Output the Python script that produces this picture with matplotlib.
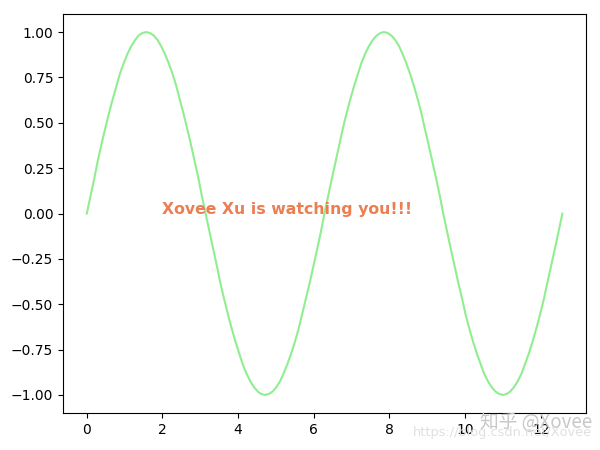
import matplotlib
matplotlib.use("Agg")
import matplotlib.pyplot as plt

# x positions and values (step of about 0.098)
x = [0.00, 0.10, 0.20, 0.29, 0.39, 0.49, 0.59, 0.69, 0.79, 0.88, 0.98, 1.08, 1.18, 1.28, 1.37, 1.47,
     1.57, 1.67, 1.77, 1.87, 1.96, 2.06, 2.16, 2.26, 2.36, 2.45, 2.55, 2.65, 2.75, 2.85, 2.95, 3.04,
     3.14, 3.24, 3.34, 3.44, 3.53, 3.63, 3.73, 3.83, 3.93, 4.03, 4.12, 4.22, 4.32, 4.42, 4.52, 4.61,
     4.71, 4.81, 4.91, 5.01, 5.11, 5.20, 5.30, 5.40, 5.50, 5.60, 5.69, 5.79, 5.89, 5.99, 6.09, 6.19,
     6.28, 6.38, 6.48, 6.58, 6.68, 6.77, 6.87, 6.97, 7.07, 7.17, 7.26, 7.36, 7.46, 7.56, 7.66, 7.76,
     7.85, 7.95, 8.05, 8.15, 8.25, 8.34, 8.44, 8.54, 8.64, 8.74, 8.84, 8.93, 9.03, 9.13, 9.23, 9.33,
     9.42, 9.52, 9.62, 9.72, 9.82, 9.92, 10.01, 10.11, 10.21, 10.31, 10.41, 10.50, 10.60, 10.70, 10.80, 10.90,
     11.00, 11.09, 11.19, 11.29, 11.39, 11.49, 11.58, 11.68, 11.78, 11.88, 11.98, 12.08, 12.17, 12.27, 12.37, 12.47,
     12.57]
y = [0.000, 0.098, 0.195, 0.290, 0.383, 0.471, 0.556, 0.634, 0.707, 0.773, 0.831, 0.882, 0.924, 0.957, 0.981, 0.995,
     1.000, 0.995, 0.981, 0.957, 0.924, 0.882, 0.831, 0.773, 0.707, 0.634, 0.556, 0.471, 0.383, 0.290, 0.195, 0.098,
     0.000, -0.098, -0.195, -0.290, -0.383, -0.471, -0.556, -0.634, -0.707, -0.773, -0.831, -0.882, -0.924, -0.957, -0.981, -0.995,
     -1.000, -0.995, -0.981, -0.957, -0.924, -0.882, -0.831, -0.773, -0.707, -0.634, -0.556, -0.471, -0.383, -0.290, -0.195, -0.098,
     0.000, 0.098, 0.195, 0.290, 0.383, 0.471, 0.556, 0.634, 0.707, 0.773, 0.831, 0.882, 0.924, 0.957, 0.981, 0.995,
     1.000, 0.995, 0.981, 0.957, 0.924, 0.882, 0.831, 0.773, 0.707, 0.634, 0.556, 0.471, 0.383, 0.290, 0.195, 0.098,
     0.000, -0.098, -0.195, -0.290, -0.383, -0.471, -0.556, -0.634, -0.707, -0.773, -0.831, -0.882, -0.924, -0.957, -0.981, -0.995,
     -1.000, -0.995, -0.981, -0.957, -0.924, -0.882, -0.831, -0.773, -0.707, -0.634, -0.556, -0.471, -0.383, -0.290, -0.195, -0.098,
     0.000]

label = "Xovee Xu is watching you!!!"
label_pos = (2, 0)

fig, ax = plt.subplots(figsize=(6, 4.5), dpi=100)
fig.subplots_adjust(left=0.105, right=0.977, top=0.969, bottom=0.082)

ax.plot(x, y, color="lightgreen", linewidth=1.5)
ax.text(label_pos[0], label_pos[1], label, color="#ec7f52", fontsize=11.3, fontweight="bold")

# site watermark in the corner
fig.text(0.987, 0.06, "知乎 @Xovee", color="#c8c8c8", fontsize=13.5, ha="right", va="center",
         family=["Noto Sans CJK SC", "DejaVu Sans"])
fig.text(0.987, 0.038, "https://blog.csdn.net/Xovee", color="#e0e0e0", fontsize=9.3,
         ha="right", va="center")

fig.savefig("out.png")
